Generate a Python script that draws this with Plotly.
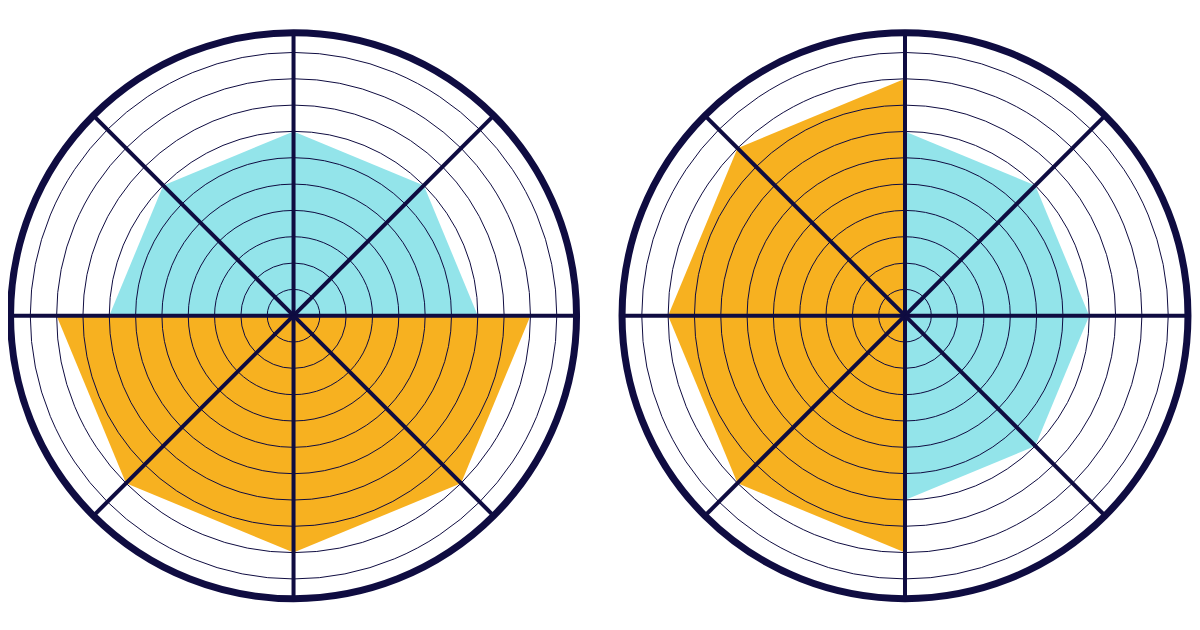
import plotly.graph_objects as go

# values (radial units, one grid ring = 1)
left_cyan_theta = [0, 45, 90, 135, 180]
left_cyan_r = [7, 7, 7, 7, 7]
left_orange_theta = [180, 225, 270, 315, 360]
left_orange_r = [9, 9, 9, 9, 9]

right_cyan_theta = [90, 45, 0, -45, -90]
right_cyan_r = [7, 7, 7, 7, 7]
right_orange_theta = [90, 135, 180, 225, 270]
right_orange_r = [9, 9, 9, 9, 9]

NAVY = '#0f0c41'
CYAN = '#93e4ea'
ORANGE = '#f7b120'
R_MAX = 10.75


def half_polygon(theta, r, color, subplot):
    # close the wedge through the centre
    return go.Scatterpolar(
        r=[0] + r + [0],
        theta=[theta[0]] + theta + [theta[-1]],
        fill='toself',
        fillcolor=color,
        mode='lines',
        line=dict(width=0, color=color),
        hoverinfo='skip',
        subplot=subplot,
        showlegend=False,
    )


def dummy(subplot):
    return go.Scatterpolar(r=[0], theta=[0], mode='markers',
                           marker=dict(opacity=0), hoverinfo='skip',
                           subplot=subplot, showlegend=False)


fig = go.Figure()
fig.add_trace(half_polygon(left_cyan_theta, left_cyan_r, CYAN, 'polar'))
fig.add_trace(half_polygon(left_orange_theta, left_orange_r, ORANGE, 'polar'))
fig.add_trace(dummy('polar2'))
fig.add_trace(half_polygon(right_cyan_theta, right_cyan_r, CYAN, 'polar3'))
fig.add_trace(half_polygon(right_orange_theta, right_orange_r, ORANGE, 'polar3'))
fig.add_trace(dummy('polar4'))

# page body adds ~8px offset, domains compensate for it
dom_y = [0.0624, 0.9608]
dom_left = [0.0021, 0.4738]
dom_right = [0.5117, 0.9833]

data_polar = dict(
    bgcolor='white',
    radialaxis=dict(range=[0, R_MAX], showgrid=False, showline=False,
                    showticklabels=False, ticks=''),
    angularaxis=dict(showgrid=False, showline=False,
                     showticklabels=False, ticks=''),
)

# second polar on top of the first one so the grid sits above the fills
grid_polar = dict(
    bgcolor='rgba(0,0,0,0)',
    radialaxis=dict(range=[0, R_MAX], tick0=0, dtick=1, showgrid=True,
                    gridcolor=NAVY, gridwidth=1, showline=False,
                    showticklabels=False, ticks=''),
    angularaxis=dict(tick0=0, dtick=45, showgrid=True, gridcolor=NAVY,
                     gridwidth=3.5, showline=True, linecolor=NAVY, linewidth=7,
                     showticklabels=False, ticks=''),
)

fig.update_layout(
    width=1200, height=630,
    margin=dict(l=0, r=0, t=0, b=0),
    paper_bgcolor='white',
    plot_bgcolor='white',
    showlegend=False,
    polar=dict(domain=dict(x=dom_left, y=dom_y), **data_polar),
    polar2=dict(domain=dict(x=dom_left, y=dom_y), **grid_polar),
    polar3=dict(domain=dict(x=dom_right, y=dom_y), **data_polar),
    polar4=dict(domain=dict(x=dom_right, y=dom_y), **grid_polar),
)

fig.write_html("out.html")
